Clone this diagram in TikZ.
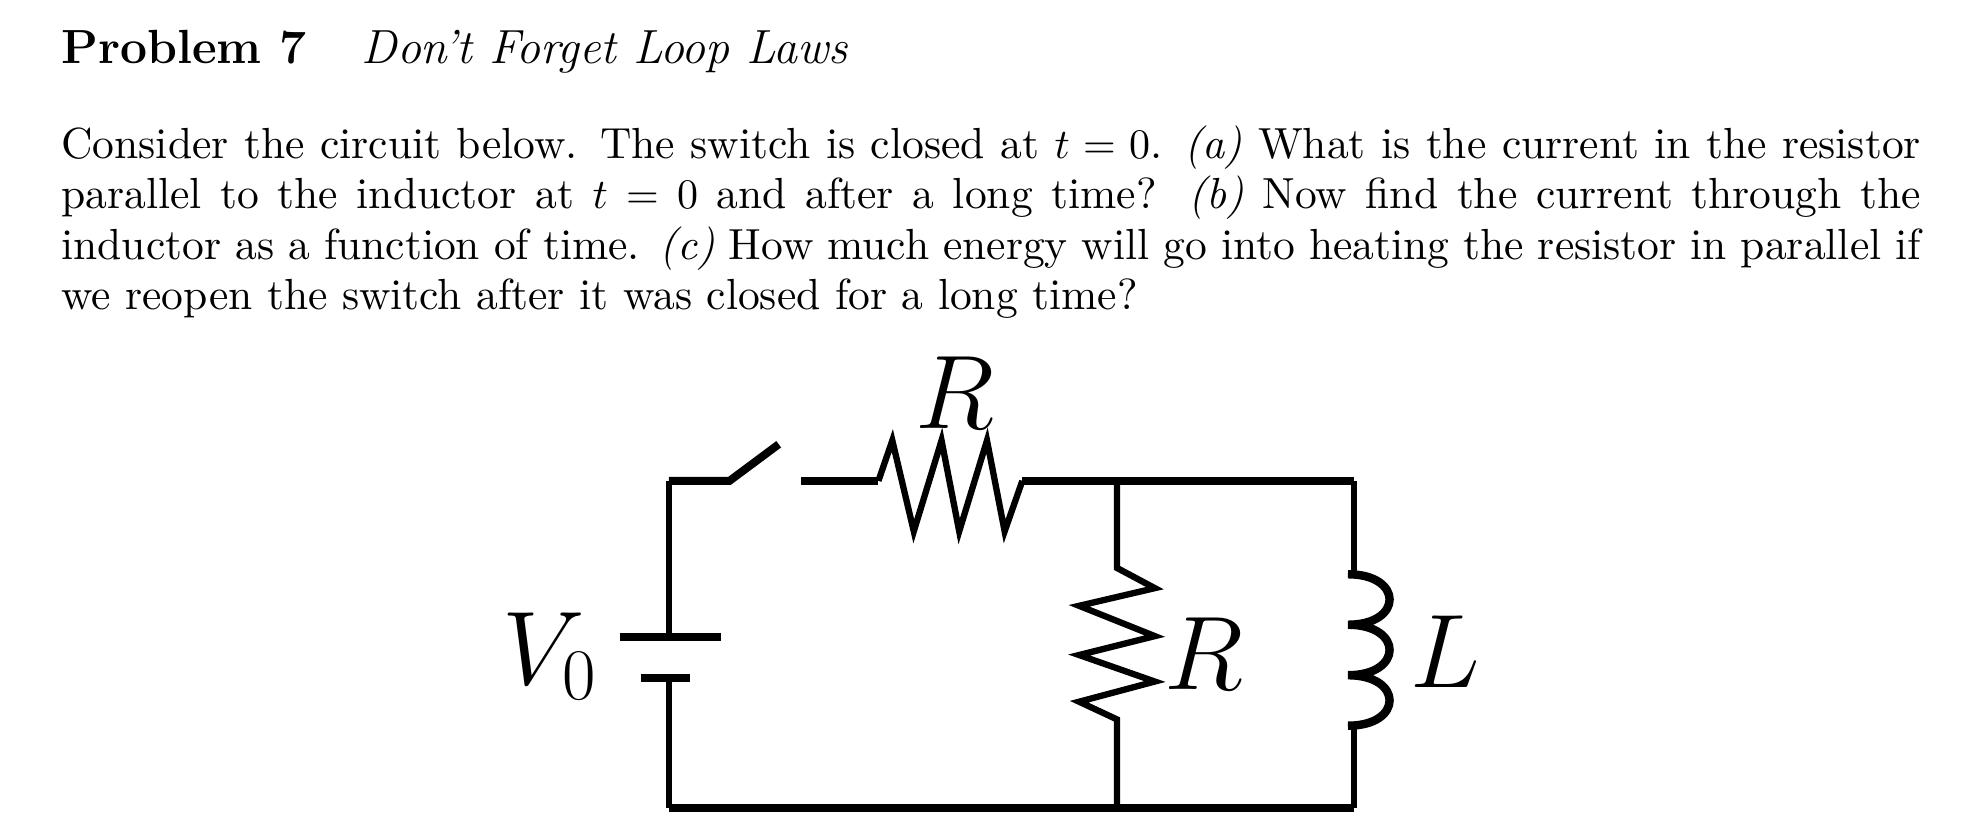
\documentclass[tikz,border=0pt]{standalone}
\begin{document}
\begin{tikzpicture}[x=0.3pt,y=-0.3pt,
  w/.style={line width=1.5pt},
  wt/.style={line width=1.9pt},
  lbl/.style={font=\fontsize{23}{26}\selectfont,inner sep=0pt}]
\useasboundingbox (0,0) rectangle (1568,660);
\node[anchor=base west,inner sep=0pt] (title) at (48,50) {\fontsize{11.4}{14}\selectfont\textbf{Problem 7}\hspace{13pt}\textit{Don't Forget Loop Laws}};
\node[anchor=north west,inner sep=0pt,text width=442pt,align=justify] (body) at (48,99) {\fontsize{10.35}{12.9}\selectfont Consider the circuit below. The switch is closed at $t=0$. \textit{(a)} What is the current in the resistor parallel to the inductor at $t=0$ and after a long time? \textit{(b)} Now find the current through the inductor as a function of time. \textit{(c)} How much energy will go into heating the resistor in parallel if we reopen the switch after it was closed for a long time?};
% coordinates
\coordinate (bl) at (530,640);
\coordinate (tl) at (530,381);
\coordinate (s1) at (578,381);
\coordinate (s2) at (617,352);
\coordinate (s3) at (635,381);
\coordinate (r1) at (696,381);
\coordinate (r2) at (810,381);
\coordinate (jm) at (885,381);
\coordinate (tr) at (1073,381);
\coordinate (bm) at (885,640);
\coordinate (br) at (1073,640);
% top wire
\draw[wt,line cap=butt] (tl) -- (s1) -- (s2);
\draw[wt] (s3) -- (r1);
\draw[w,line join=miter] (r1) -- (707,349) -- (724,421) -- (746,349) -- (760,421) -- (782,349) -- (796,421) -- (r2);
\draw[wt] (r2) -- (tr);
% left branch & battery
\draw[w] (tl) -- (530,505);
\draw[wt] (491,505) -- (571,505);
\draw[wt] (508,537) -- (547,537);
\draw[w] (530,537) -- (bl);
\draw[wt] (bl) -- (br);
% middle resistor
\draw[w,line join=miter] (jm) -- (885,450) -- (915,466) -- (855,480) -- (915,504) -- (855,519) -- (915,540) -- (855,556) -- (885,570) -- (bm);
% inductor
\draw[w] (tr) -- (1073,455);
\draw[line width=2pt] (1068,455) .. controls (1112,455) and (1112,495) .. (1068,495)
  .. controls (1112,495) and (1112,535) .. (1068,535)
  .. controls (1112,535) and (1112,575) .. (1068,575);
\draw[w] (1073,575) -- (br);
% labels
\node[lbl] (lR1) at (757,311) {$R$};
\node[lbl] (lR2) at (954,518) {$R$};
\node[lbl] (lL) at (1145,516) {$L$};
\node[lbl] (lV) at (436,520) {$V_0$};
\end{tikzpicture}
\end{document}
